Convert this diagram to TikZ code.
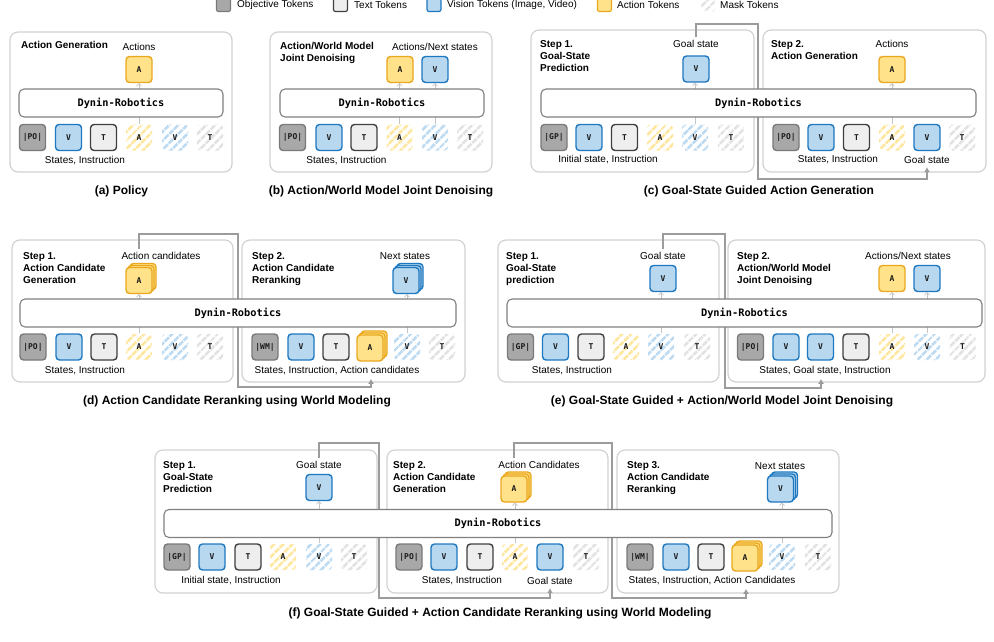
\documentclass[tikz,border=0pt]{standalone}
\usepackage{fontspec}
\setmainfont{Liberation Sans}
\setmonofont{DejaVu Sans Mono}
\usetikzlibrary{arrows.meta,patterns.meta}

\definecolor{objfill}{HTML}{A8A8A8}
\definecolor{objline}{HTML}{7A7A7A}
\definecolor{txtfill}{HTML}{EEEEEE}
\definecolor{txtline}{HTML}{404040}
\definecolor{visfill}{HTML}{B8D8F0}
\definecolor{visline}{HTML}{1E78C0}
\definecolor{actfill}{HTML}{FFE28A}
\definecolor{actline}{HTML}{EBA81E}
\definecolor{actstripe}{HTML}{FFE69E}
\definecolor{visstripe}{HTML}{BCDAF1}
\definecolor{txtstripe}{HTML}{E2E2E2}
\definecolor{panelgray}{HTML}{D2D2D2}
\definecolor{coregray}{HTML}{808080}
\definecolor{linkgray}{HTML}{9C9C9C}
\definecolor{feedgray}{HTML}{C4C4C4}

\pgfdeclarelayer{panels}
\pgfdeclarelayer{wires}
\pgfsetlayers{panels,wires,main}

\tikzset{
    panel/.style={draw=panelgray, line width=1.2pt, rounded corners=8pt, fill=white},
    core/.style={draw=coregray, line width=1.1pt, rounded corners=5pt, fill=white,
        minimum height=28pt, inner sep=0pt, font=\ttfamily\bfseries\fontsize{10.3}{12}\selectfont},
    tok/.style={minimum size=26pt, inner sep=0pt, rounded corners=3.5pt, line width=1.4pt,
        text=black!90, font=\ttfamily\bfseries\fontsize{8}{9}\selectfont},
    obj/.style={tok, draw=objline, fill=objfill},
    txt/.style={tok, draw=txtline, fill=txtfill},
    vis/.style={tok, draw=visline, fill=visfill},
    act/.style={tok, draw=actline, fill=actfill},
    hatch/.style={tok, pattern={Lines[angle=45, distance=6.5pt, line width=3pt]}, pattern color=#1},
    legendkey/.style={minimum size=14pt, rounded corners=2pt, line width=1.2pt},
    note/.style={font=\fontsize{10}{12}\selectfont},
    head/.style={anchor=north west, align=left, inner sep=0pt, font=\bfseries\fontsize{10}{12}\selectfont},
    caption/.style={font=\bfseries\fontsize{12}{14}\selectfont},
    link/.style={draw=linkgray, line width=1.6pt, -{Latex[length=5pt,width=6pt]}},
    feed/.style={draw=feedgray, line width=0.7pt, -{Straight Barb[length=2.5pt,width=5pt]}}
}

\begin{document}
\begin{tikzpicture}[x=1pt, y=-1pt]
    \useasboundingbox (0,0) rectangle (994,642);

    % legend
    \node[obj, legendkey] (k-obj) at (223.5,4.5) {};
    \node[note, anchor=west, inner sep=0pt] (k-objt) at (237,5) {Objective Tokens};
    \node[txt, legendkey] (k-txt) at (340.5,4.5) {};
    \node[note, anchor=west, inner sep=0pt] (k-txtt) at (354,5) {Text Tokens};
    \node[vis, legendkey] (k-vis) at (434,4.5) {};
    \node[note, anchor=west, inner sep=0pt] (k-vist) at (447,5) {Vision Tokens (Image, Video)};
    \node[act, legendkey] (k-act) at (604.5,4.5) {};
    \node[note, anchor=west, inner sep=0pt] (k-actt) at (617,5) {Action Tokens};
    \node[hatch=txtstripe, legendkey] (k-mask) at (708,4.5) {};
    \node[note, anchor=west, inner sep=0pt] (k-maskt) at (720,5) {Mask Tokens};

    % panel frames
    \begin{pgfonlayer}{panels}
        \draw[panel] (10,32) rectangle (232,172);
        \draw[panel] (270,32) rectangle (492,172);
        \draw[panel] (531,30) rectangle (754,172);
        \draw[panel] (763,30) rectangle (986,172);
        \draw[panel] (12,240) rectangle (233,382);
        \draw[panel] (242,240) rectangle (465,382);
        \draw[panel] (498,240) rectangle (719,382);
        \draw[panel] (728,240) rectangle (985,382);
        \draw[panel] (155,450) rectangle (377,593);
        \draw[panel] (387,450) rectangle (608,593);
        \draw[panel] (617,450) rectangle (839,593);
    \end{pgfonlayer}

    % (a) policy
    \node[head] (a-head) at (21,41) {Action Generation};
    \node[core, minimum width=204pt] (a-core) at (121,103) {Dynin-Robotics};
    \node[obj] (a-po) at (32.5,137.5) {|PO|};
    \node[vis] (a-v) at (68.5,137.5) {V};
    \node[txt] (a-t) at (103.5,137.5) {T};
    \node[hatch=actstripe] (a-ma) at (139,137.5) {A};
    \node[hatch=visstripe] (a-mv) at (175,137.5) {V};
    \node[hatch=txtstripe] (a-mt) at (210,137.5) {T};
    \node[act] (a-act) at (139,69.5) {A};
    \node[note] (a-out) at (139,47) {Actions};
    \node[note] (a-in) at (85,161) {States, Instruction};
    \node[caption] (a-cap) at (121.5,191) {(a) Policy};

    % (b) joint denoising
    \node[head] (b-head) at (280,42) {Action/World Model\\Joint Denoising};
    \node[core, minimum width=204pt] (b-core) at (382,103) {Dynin-Robotics};
    \node[obj] (b-po) at (292.5,137.5) {|PO|};
    \node[vis] (b-v) at (329,137.5) {V};
    \node[txt] (b-t) at (364,137.5) {T};
    \node[hatch=actstripe] (b-ma) at (399.5,137.5) {A};
    \node[hatch=visstripe] (b-mv) at (435,137.5) {V};
    \node[hatch=txtstripe] (b-mt) at (470,137.5) {T};
    \node[act] (b-act) at (400,69.5) {A};
    \node[vis] (b-next) at (435,69.5) {V};
    \node[note] (b-out) at (435,46.5) {Actions/Next states};
    \node[note] (b-in) at (346.5,161) {States, Instruction};
    \node[caption] (b-cap) at (381,191) {(b) Action/World Model Joint Denoising};

    % (c) goal-state guided
    \node[head] (c-head1) at (540,40) {Step 1.\\Goal-State\\Prediction};
    \node[head] (c-head2) at (771,40) {Step 2.\\Action Generation};
    \node[core, minimum width=435pt] (c-core) at (758.5,103) {Dynin-Robotics};
    \node[obj] (c-gp) at (554,137.5) {|GP|};
    \node[vis] (c-v1) at (589,137.5) {V};
    \node[txt] (c-t1) at (624.5,137.5) {T};
    \node[hatch=actstripe] (c-ma1) at (660,137.5) {A};
    \node[hatch=visstripe] (c-mv1) at (695,137.5) {V};
    \node[hatch=txtstripe] (c-mt1) at (731,137.5) {T};
    \node[obj] (c-po) at (786,137.5) {|PO|};
    \node[vis] (c-v2) at (821,137.5) {V};
    \node[txt] (c-t2) at (856.5,137.5) {T};
    \node[hatch=actstripe] (c-ma2) at (892,137.5) {A};
    \node[vis] (c-gv) at (927,137.5) {V};
    \node[hatch=txtstripe] (c-mt2) at (962,137.5) {T};
    \node[vis] (c-goal) at (696,69) {V};
    \node[act] (c-act) at (892,69.5) {A};
    \node[note] (c-gl) at (696,44) {Goal state};
    \node[note] (c-out) at (892,44) {Actions};
    \node[note] (c-in1) at (608,160) {Initial state, Instruction};
    \node[note] (c-in2) at (838,160) {States, Instruction};
    \node[note] (c-gin) at (927,160) {Goal state};
    \node[caption] (c-cap) at (759,191) {(c) Goal-State Guided Action Generation};
    \coordinate (c-turn1) at (758,24);
    \coordinate (c-turn2) at (927,179);

    % (d) candidate reranking
    \node[head] (d-head1) at (23,252) {Step 1.\\Action Candidate\\Generation};
    \node[head] (d-head2) at (252,252) {Step 2.\\Action Candidate\\Reranking};
    \node[core, minimum width=436pt] (d-core) at (238,313) {Dynin-Robotics};
    \node[obj] (d-po) at (33,347) {|PO|};
    \node[vis] (d-v1) at (69,347) {V};
    \node[txt] (d-t1) at (104,347) {T};
    \node[hatch=actstripe] (d-ma1) at (139,347) {A};
    \node[hatch=visstripe] (d-mv1) at (175,347) {V};
    \node[hatch=txtstripe] (d-mt1) at (210,347) {T};
    \node[obj] (d-wm) at (265,347) {|WM|};
    \node[vis] (d-v2) at (301,347) {V};
    \node[txt] (d-t2) at (336,347) {T};
    \node[act] (d-ca3) at (374,344) {};
    \node[act] (d-ca2) at (372,346) {};
    \node[act] (d-ca) at (370,348) {A};
    \node[hatch=visstripe] (d-mv2) at (407,347) {V};
    \node[hatch=txtstripe] (d-mt2) at (442,347) {T};
    \node[act] (d-ta3) at (143,276.5) {};
    \node[act] (d-ta2) at (141,278.5) {};
    \node[act] (d-ta) at (139,280.5) {A};
    \node[vis] (d-tv3) at (410,276.5) {};
    \node[vis] (d-tv2) at (408,278.5) {};
    \node[vis] (d-tv) at (406,280.5) {V};
    \node[note] (d-cand) at (161,256) {Action candidates};
    \node[note] (d-next) at (405,256) {Next states};
    \node[note] (d-in1) at (85,371) {States, Instruction};
    \node[note] (d-in2) at (337,371) {States, Instruction, Action candidates};
    \node[caption] (d-cap) at (237,401) {(d) Action Candidate Reranking using World Modeling};
    \coordinate (d-turn1) at (238,234);
    \coordinate (d-turn2) at (371,387);

    % (e) goal-state guided joint denoising
    \node[head] (e-head1) at (506,252) {Step 1.\\Goal-State\\prediction};
    \node[head] (e-head2) at (737,252) {Step 2.\\Action/World Model\\Joint Denoising};
    \node[core, minimum width=475pt] (e-core) at (744.5,313) {Dynin-Robotics};
    \node[obj] (e-gp) at (520.5,347) {|GP|};
    \node[vis] (e-v1) at (555.5,347) {V};
    \node[txt] (e-t1) at (591,347) {T};
    \node[hatch=actstripe] (e-ma1) at (626,347) {A};
    \node[hatch=visstripe] (e-mv1) at (661,347) {V};
    \node[hatch=txtstripe] (e-mt1) at (697,347) {T};
    \node[obj] (e-po) at (750.5,347) {|PO|};
    \node[vis] (e-v2) at (786,347) {V};
    \node[vis] (e-gv) at (820.5,347) {V};
    \node[txt] (e-t2) at (856,347) {T};
    \node[hatch=actstripe] (e-ma2) at (892,347) {A};
    \node[hatch=visstripe] (e-mv2) at (927,347) {V};
    \node[hatch=txtstripe] (e-mt2) at (962.5,347) {T};
    \node[vis] (e-goal) at (663,278.5) {V};
    \node[act] (e-act) at (892,278.5) {A};
    \node[vis] (e-next) at (927,278.5) {V};
    \node[note] (e-gl) at (663,256) {Goal state};
    \node[note] (e-out) at (908,256) {Actions/Next states};
    \node[note] (e-in1) at (572,371) {States, Instruction};
    \node[note] (e-in2) at (825,371) {States, Goal state, Instruction};
    \node[caption] (e-cap) at (722,401) {(e) Goal-State Guided + Action/World Model Joint Denoising};
    \coordinate (e-turn1) at (725,234);
    \coordinate (e-turn2) at (821,388);

    % (f) goal-state guided reranking
    \node[head] (f-head1) at (163,461) {Step 1.\\Goal-State\\Prediction};
    \node[head] (f-head2) at (393,461) {Step 2.\\Action Candidate\\Generation};
    \node[head] (f-head3) at (627,461) {Step 3.\\Action Candidate\\Reranking};
    \node[core, minimum width=668pt] (f-core) at (498,523.5) {Dynin-Robotics};
    \node[obj] (f-gp) at (177,557) {|GP|};
    \node[vis] (f-v1) at (212,557) {V};
    \node[txt] (f-t1) at (248,557) {T};
    \node[hatch=actstripe] (f-ma1) at (283,557) {A};
    \node[hatch=visstripe] (f-mv1) at (319,557) {V};
    \node[hatch=txtstripe] (f-mt1) at (354,557) {T};
    \node[obj] (f-po) at (409,557) {|PO|};
    \node[vis] (f-v2) at (444,557) {V};
    \node[txt] (f-t2) at (480,557) {T};
    \node[hatch=actstripe] (f-ma2) at (515,557) {A};
    \node[vis] (f-gv) at (550,557) {V};
    \node[hatch=txtstripe] (f-mt2) at (586,557) {T};
    \node[obj] (f-wm) at (640,557) {|WM|};
    \node[vis] (f-v3) at (676,557) {V};
    \node[txt] (f-t3) at (711,557) {T};
    \node[act] (f-ca3) at (749,554) {};
    \node[act] (f-ca2) at (747,556) {};
    \node[act] (f-ca) at (745,558) {A};
    \node[hatch=visstripe] (f-mv3) at (782,557) {V};
    \node[hatch=txtstripe] (f-mt3) at (818,557) {T};
    \node[vis] (f-goal) at (319,487.5) {V};
    \node[act] (f-ta3) at (518,485) {};
    \node[act] (f-ta2) at (516,487) {};
    \node[act] (f-ta) at (514,489) {A};
    \node[vis] (f-tv3) at (784.5,485) {};
    \node[vis] (f-tv2) at (782.5,487) {};
    \node[vis] (f-tv) at (780.5,489) {V};
    \node[note] (f-gl) at (319,465) {Goal state};
    \node[note] (f-cand) at (539,465) {Action Candidates};
    \node[note] (f-next) at (780,466) {Next states};
    \node[note] (f-in1) at (231,581) {Initial state, Instruction};
    \node[note] (f-in2) at (462,581) {States, Instruction};
    \node[note] (f-gin) at (550,581) {Goal state};
    \node[note] (f-in3) at (712,581) {States, Instruction, Action Candidates};
    \node[caption] (f-cap) at (500,613) {(f) Goal-State Guided + Action Candidate Reranking using World Modeling};
    \coordinate (f-turn1) at (379,443);
    \coordinate (f-turn2) at (550,598);
    \coordinate (f-turn3) at (612,443);
    \coordinate (f-turn4) at (746,598);

    % arrows through the model and hand-offs between steps
    \begin{pgfonlayer}{wires}
        \draw[feed] (a-ma.north) -- (a-ma.north |- a-act.south);
        \draw[feed] (b-ma.north) -- (b-ma.north |- b-act.south);
        \draw[feed] (b-mv.north) -- (b-mv.north |- b-next.south);
        \draw[feed] (c-mv1.north) -- (c-mv1.north |- c-goal.south);
        \draw[feed] (c-ma2.north) -- (c-ma2.north |- c-act.south);
        \draw[feed] (d-ma1.north) -- (d-ma1.north |- d-ta.south);
        \draw[feed] (d-mv2.north) -- (d-mv2.north |- d-tv.south);
        \draw[feed] (e-mv1.north) -- (e-mv1.north |- e-goal.south);
        \draw[feed] (e-ma2.north) -- (e-ma2.north |- e-act.south);
        \draw[feed] (e-mv2.north) -- (e-mv2.north |- e-next.south);
        \draw[feed] (f-mv1.north) -- (f-mv1.north |- f-goal.south);
        \draw[feed] (f-ma2.north) -- (f-ma2.north |- f-ta.south);
        \draw[feed] (f-mv3.north) -- (f-mv3.north |- f-tv.south);
        \draw[link] (c-gl.north) |- (c-turn1) |- (c-turn2) -- (c-gin.south);
        \draw[link] (d-cand.north -| d-ta) |- (d-turn1) |- (d-turn2) -- (d-in2.south -| d-turn2);
        \draw[link] (e-gl.north) |- (e-turn1) |- (e-turn2) -- (e-in2.south -| e-turn2);
        \draw[link] (f-gl.north) |- (f-turn1) |- (f-turn2) -- (f-gin.south);
        \draw[link] (f-cand.north -| f-ta) |- (f-turn3) |- (f-turn4) -- (f-in3.south -| f-turn4);
    \end{pgfonlayer}
\end{tikzpicture}
\end{document}
